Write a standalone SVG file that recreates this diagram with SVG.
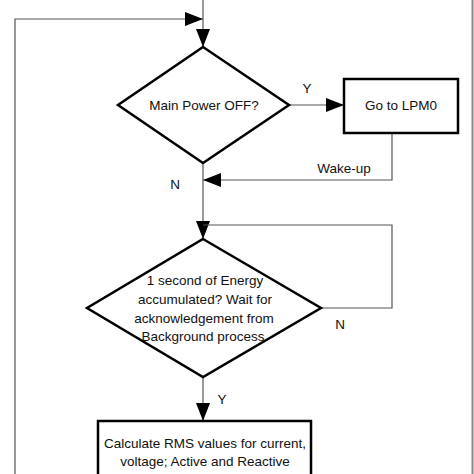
<svg xmlns="http://www.w3.org/2000/svg" width="474" height="474" viewBox="0 0 474 474">
<style>
.shape{fill:#fff;stroke:#000;stroke-width:2.5}
.conn{fill:none;stroke:#555;stroke-width:1.2}
.t{font-family:"Liberation Sans",Arial,sans-serif;font-size:13.5px;fill:#111;text-anchor:middle}
</style>
<defs>
<marker id="ah" markerUnits="userSpaceOnUse" markerWidth="18" markerHeight="14" refX="18" refY="7" orient="auto">
<path d="M0,0 L18,7 L0,14 Z" fill="#000"/>
</marker>
</defs>
<rect width="474" height="474" fill="#fff"/>
<line x1="472.5" y1="0" x2="472.5" y2="474" stroke="#888" stroke-width="2"/>
<g id="connectors">
<path class="conn" d="M15,474 V19 H203" marker-end="url(#ah)"/>
<path class="conn" d="M203,0 V47" marker-end="url(#ah)"/>
<path class="conn" d="M289,105 H344" marker-end="url(#ah)"/>
<path class="conn" d="M392,133 V180 H203" marker-end="url(#ah)"/>
<path class="conn" d="M203,163 V239" marker-end="url(#ah)"/>
<path class="conn" d="M321,308 H392 V225 H203"/>
<path class="conn" d="M203,377 V421" marker-end="url(#ah)"/>
<text class="t" x="307" y="93">Y</text>
<text class="t" x="344" y="173">Wake-up</text>
<text class="t" x="175" y="189">N</text>
<text class="t" x="340" y="329">N</text>
<text class="t" x="222" y="404">Y</text>
</g>
<g id="main-power">
<path class="shape" d="M203,47 L289,105 L203,163 L118,105 Z"/>
<text class="t" x="204" y="110">Main Power OFF?</text>
</g>
<g id="lpm0">
<rect class="shape" x="344" y="79" width="114" height="54"/>
<text class="t" x="401" y="110">Go to LPM0</text>
</g>
<g id="energy">
<path class="shape" d="M203,239 L321,308 L203,377 L87,308 Z"/>
<text class="t" x="205" y="285">1 second of Energy</text>
<text class="t" x="205" y="304">accumulated? Wait for</text>
<text class="t" x="204" y="323">acknowledgement from</text>
<text class="t" x="203" y="341">Background process</text>
</g>
<g id="calc">
<rect class="shape" x="98" y="421" width="213" height="70"/>
<text class="t" x="205" y="448">Calculate RMS values for current,</text>
<text class="t" x="205" y="466">voltage; Active and Reactive</text>
</g>
</svg>
